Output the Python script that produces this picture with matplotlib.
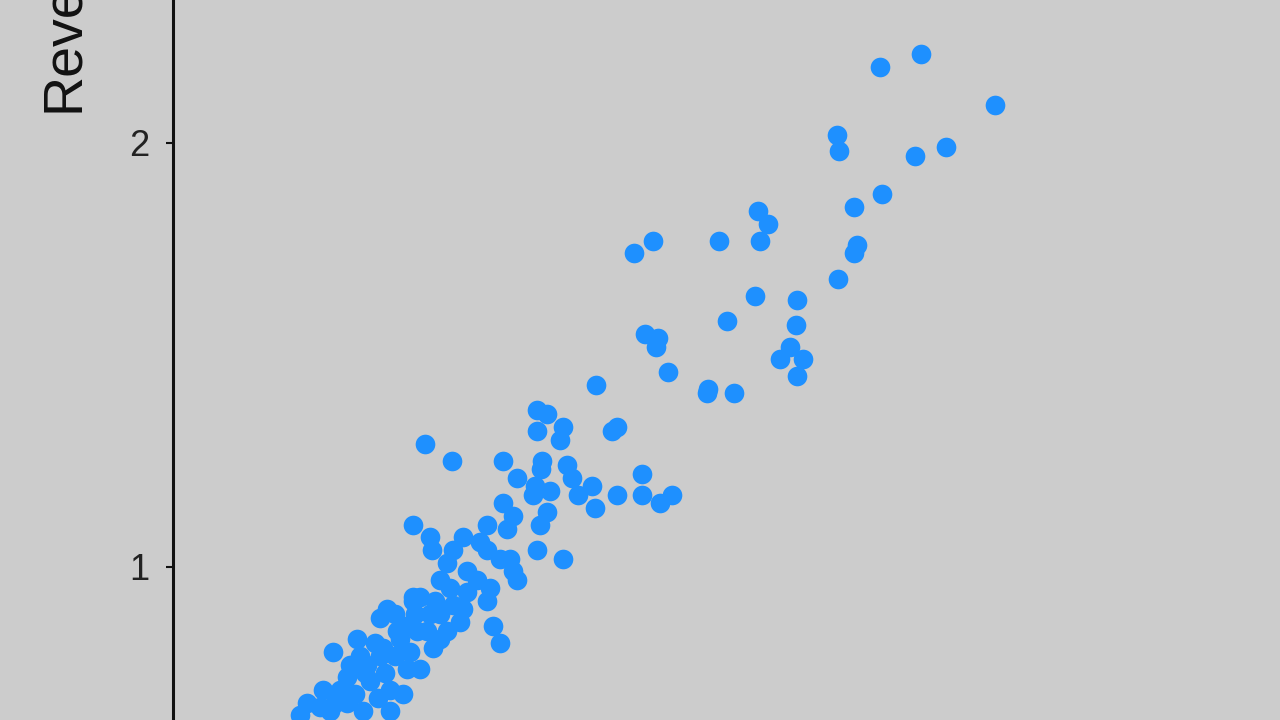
import matplotlib
matplotlib.use("Agg")
import matplotlib.pyplot as plt

plt.rcParams['font.family'] = ['Liberation Sans', 'DejaVu Sans']

# Marketing spend (arbitrary units) vs revenue
spend = [
    70.7, 74.8, 82.2, 66.4, 66.6, 74.2, 77.3, 70.9, 68.1, 58.5, 59.5, 68.4, 68.1,
    66.5, 58.7, 54.6, 48.0, 46.1, 58.2, 62.4, 55.4, 62.3, 47.2, 48.5, 48.3, 49.5,
    61.7, 60.7, 63.0, 62.4, 42.3, 53.5, 53.4, 56.1,
    36.4, 37.4, 36.4, 39.0, 38.7, 44.4, 43.9, 25.2, 27.9, 33.0, 36.9, 36.8, 39.4,
    39.9, 34.4, 36.2, 37.7, 36.0, 37.4, 36.7, 40.5, 41.9, 42.2, 44.4, 46.9, 46.9,
    48.7, 49.9, 33.0, 34.0, 33.4, 31.4, 24.0, 25.7, 29.0, 25.9, 30.7, 36.4, 39.0,
    28.0, 29.4, 31.4, 32.7, 33.7, 34.0, 34.4, 27.4, 26.7, 24.0, 30.4, 31.7, 29.4,
    27.7, 32.0, 32.7,
    24.0, 25.7, 28.0, 28.7, 26.7, 24.4, 21.4, 20.7, 22.4, 18.4, 16.0, 13.4, 15.0,
    17.4, 19.4, 21.0, 21.7, 23.0, 21.7, 19.7, 17.4, 19.0, 15.7, 24.7, 23.4, 26.0,
    27.4, 25.4, 29.0, 31.4, 26.7, 22.7, 12.7, 20.5, 17.7, 18.7, 20.2, 22.2, 23.2,
    24.2, 21.2, 22.2, 23.7, 16.7, 18.2, 14.7, 16.2, 19.2, 20.7, 24.7, 26.2,
]
revenue = [
    2.18, 2.21, 2.09, 2.02, 1.98, 1.97, 1.99, 1.88, 1.85, 1.84, 1.81, 1.76, 1.74,
    1.68, 1.77, 1.77, 1.77, 1.74, 1.64, 1.63, 1.58, 1.57, 1.55, 1.54, 1.52, 1.46,
    1.52, 1.49, 1.49, 1.45, 1.43, 1.42, 1.41, 1.41,
    1.37, 1.36, 1.32, 1.33, 1.30, 1.33, 1.32, 1.29, 1.25, 1.25, 1.25, 1.23, 1.24,
    1.21, 1.21, 1.19, 1.18, 1.17, 1.13, 1.10, 1.17, 1.19, 1.14, 1.17, 1.22, 1.17,
    1.15, 1.17, 1.15, 1.12, 1.09, 1.10, 1.10, 1.07, 1.07, 1.04, 1.06, 1.04, 1.02,
    1.04, 0.99, 1.04, 1.02, 1.02, 0.99, 0.97, 1.01, 0.97, 0.93, 0.97, 0.95, 0.94,
    0.95, 0.86, 0.82,
    0.92, 0.89, 0.91, 0.87, 0.83, 0.85, 0.90, 0.88, 0.85, 0.83, 0.80, 0.68, 0.71,
    0.74, 0.77, 0.81, 0.71, 0.70, 0.66, 0.73, 0.68, 0.66, 0.66, 0.76, 0.76, 0.81,
    0.85, 0.85, 0.90, 0.92, 0.89, 0.83, 0.65, 0.69, 0.77, 0.79, 0.82, 0.89, 0.86,
    0.89, 0.75, 0.79, 0.80, 0.71, 0.70, 0.67, 0.68, 0.75, 0.79, 0.93, 0.92,
]
y_ticks = [1, 2]
y_tick_labels = ["1", "2"]
y_label = "Revenue"

BG = "#cccccc"
fig = plt.figure(figsize=(12.8, 7.2), dpi=100, facecolor=BG)
left = 173 / 1280
ax = fig.add_axes([left, 0, 1 - left, 1], facecolor=BG)

ax.scatter(spend, revenue, s=200, color="#1E90FF", linewidths=0, zorder=3)

ax.set_xlim(0, 110.7)
ax.set_ylim(2 - 577 / 424, 2 + 143 / 424)

for side in ("top", "right", "bottom"):
    ax.spines[side].set_visible(False)
ax.spines["left"].set_linewidth(2.2)
ax.spines["left"].set_color("#111111")

ax.set_xticks([])
ax.set_yticks(y_ticks)
ax.set_yticklabels(y_tick_labels)
ax.tick_params(axis="y", direction="out", length=5, width=1.5, pad=12,
               labelsize=26, labelcolor="#222222", color="#111111")

fig.text(64 / 1280, 1 - 112 / 720, y_label, rotation=90, ha="center",
         va="bottom", fontsize=40, color="#111111")

fig.savefig("out.png", dpi=100, facecolor=BG)
